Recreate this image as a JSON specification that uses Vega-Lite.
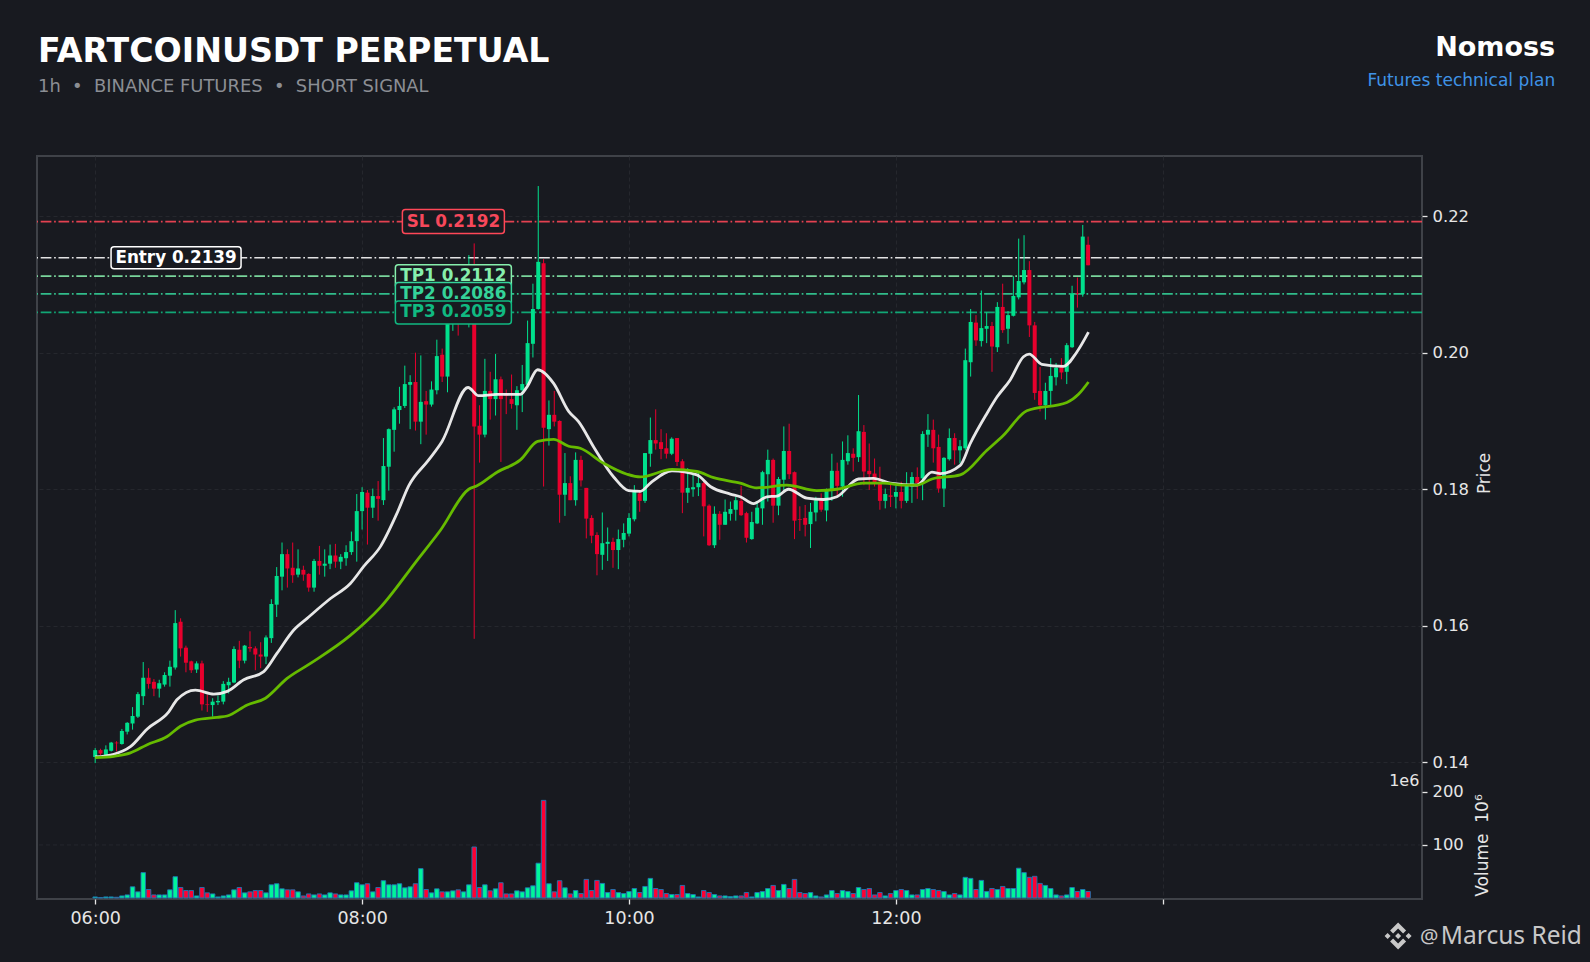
{
  "$schema": "https://vega.github.io/schema/vega-lite/v6.json",
  "width": 1385,
  "height": 743,
  "autosize": {"type": "none"},
  "padding": {"left": 37, "top": 156, "right": 168, "bottom": 63},
  "background": "#181a20",
  "view": {"stroke": "#3f4248", "strokeWidth": 2, "fill": "#181a20"},
  "title": {
    "text": "FARTCOINUSDT PERPETUAL",
    "subtitle": "1h\u00a0\u00a0•\u00a0\u00a0BINANCE FUTURES\u00a0\u00a0•\u00a0\u00a0SHORT SIGNAL",
    "anchor": "start",
    "frame": "group",
    "dx": 1,
    "offset": -63,
    "font": "DejaVu Sans",
    "fontSize": 33.2,
    "fontWeight": "bold",
    "color": "#ffffff",
    "subtitleFont": "DejaVu Sans",
    "subtitleFontSize": 17.9,
    "subtitleColor": "#8b8e94",
    "subtitlePadding": 9
  },
  "config": {"font": "DejaVu Sans"},
  "datasets": {
    "candles": [
{"t":6.00,"o":0.1408,"h":0.1421,"l":0.1399,"c":0.1418,"v":1.9},
{"t":6.04,"o":0.1418,"h":0.1420,"l":0.1411,"c":0.1413,"v":0.6},
{"t":6.08,"o":0.1411,"h":0.1425,"l":0.1410,"c":0.1419,"v":1.9},
{"t":6.12,"o":0.1417,"h":0.1430,"l":0.1416,"c":0.1429,"v":1.9},
{"t":6.16,"o":0.1429,"h":0.1431,"l":0.1416,"c":0.1428,"v":1.3},
{"t":6.20,"o":0.1427,"h":0.1449,"l":0.1426,"c":0.1446,"v":3.8},
{"t":6.24,"o":0.1445,"h":0.1459,"l":0.1441,"c":0.1458,"v":5.7},
{"t":6.28,"o":0.1457,"h":0.1481,"l":0.1448,"c":0.1468,"v":21},
{"t":6.32,"o":0.1467,"h":0.1503,"l":0.1465,"c":0.1500,"v":11.5},
{"t":6.36,"o":0.1497,"h":0.1547,"l":0.1484,"c":0.1524,"v":47.8},
{"t":6.40,"o":0.1524,"h":0.1538,"l":0.1508,"c":0.1515,"v":15.9},
{"t":6.44,"o":0.1518,"h":0.1522,"l":0.1497,"c":0.1508,"v":5.7},
{"t":6.48,"o":0.1508,"h":0.1521,"l":0.1495,"c":0.1516,"v":5.7},
{"t":6.52,"o":0.1514,"h":0.1532,"l":0.1511,"c":0.1528,"v":5.7},
{"t":6.56,"o":0.1527,"h":0.1549,"l":0.1511,"c":0.1540,"v":15.3},
{"t":6.60,"o":0.1539,"h":0.1623,"l":0.1536,"c":0.1604,"v":40.1},
{"t":6.64,"o":0.1606,"h":0.1611,"l":0.1555,"c":0.1567,"v":19.7},
{"t":6.68,"o":0.1568,"h":0.1571,"l":0.1532,"c":0.1546,"v":14},
{"t":6.72,"o":0.1548,"h":0.1549,"l":0.1531,"c":0.1535,"v":14},
{"t":6.76,"o":0.1536,"h":0.1548,"l":0.1531,"c":0.1545,"v":3.8},
{"t":6.80,"o":0.1545,"h":0.1549,"l":0.1476,"c":0.1485,"v":19.7},
{"t":6.84,"o":0.1485,"h":0.1499,"l":0.1474,"c":0.1484,"v":9.6},
{"t":6.88,"o":0.1484,"h":0.1494,"l":0.1467,"c":0.1489,"v":7.6},
{"t":6.92,"o":0.1488,"h":0.1498,"l":0.1484,"c":0.1490,"v":1.9},
{"t":6.96,"o":0.1489,"h":0.1519,"l":0.1485,"c":0.1515,"v":3.8},
{"t":7.00,"o":0.1513,"h":0.1524,"l":0.1501,"c":0.1518,"v":5.7},
{"t":7.04,"o":0.1517,"h":0.1570,"l":0.1516,"c":0.1566,"v":15.3},
{"t":7.08,"o":0.1565,"h":0.1578,"l":0.1538,"c":0.1549,"v":19.7},
{"t":7.12,"o":0.1549,"h":0.1572,"l":0.1545,"c":0.1571,"v":9.6},
{"t":7.16,"o":0.1569,"h":0.1592,"l":0.1562,"c":0.1567,"v":11.5},
{"t":7.20,"o":0.1567,"h":0.1570,"l":0.1535,"c":0.1558,"v":14},
{"t":7.24,"o":0.1558,"h":0.1576,"l":0.1538,"c":0.1555,"v":14},
{"t":7.28,"o":0.1555,"h":0.1586,"l":0.1544,"c":0.1583,"v":9.6},
{"t":7.32,"o":0.1582,"h":0.1639,"l":0.1575,"c":0.1632,"v":24.8},
{"t":7.36,"o":0.1631,"h":0.1686,"l":0.1613,"c":0.1673,"v":26.8},
{"t":7.40,"o":0.1672,"h":0.1722,"l":0.1652,"c":0.1705,"v":17.2},
{"t":7.44,"o":0.1705,"h":0.1712,"l":0.1656,"c":0.1684,"v":15.3},
{"t":7.48,"o":0.1685,"h":0.1722,"l":0.1663,"c":0.1674,"v":15.3},
{"t":7.52,"o":0.1675,"h":0.1712,"l":0.1671,"c":0.1684,"v":11.5},
{"t":7.56,"o":0.1682,"h":0.1688,"l":0.1666,"c":0.1675,"v":3.8},
{"t":7.60,"o":0.1676,"h":0.1677,"l":0.1650,"c":0.1656,"v":7.6},
{"t":7.64,"o":0.1656,"h":0.1698,"l":0.1650,"c":0.1695,"v":5.7},
{"t":7.68,"o":0.1695,"h":0.1717,"l":0.1675,"c":0.1688,"v":7.6},
{"t":7.72,"o":0.1688,"h":0.1712,"l":0.1672,"c":0.1691,"v":5.7},
{"t":7.76,"o":0.1691,"h":0.1719,"l":0.1683,"c":0.1703,"v":9.6},
{"t":7.80,"o":0.1703,"h":0.1720,"l":0.1685,"c":0.1694,"v":7.6},
{"t":7.84,"o":0.1694,"h":0.1705,"l":0.1683,"c":0.1701,"v":5.7},
{"t":7.88,"o":0.1699,"h":0.1718,"l":0.1688,"c":0.1708,"v":5.7},
{"t":7.92,"o":0.1708,"h":0.1738,"l":0.1704,"c":0.1724,"v":13.4},
{"t":7.96,"o":0.1724,"h":0.1793,"l":0.1694,"c":0.1768,"v":28.7},
{"t":8.00,"o":0.1768,"h":0.1803,"l":0.1741,"c":0.1796,"v":24.8},
{"t":8.04,"o":0.1795,"h":0.1799,"l":0.1719,"c":0.1773,"v":26.8},
{"t":8.08,"o":0.1773,"h":0.1801,"l":0.1758,"c":0.1790,"v":11.5},
{"t":8.12,"o":0.1790,"h":0.1812,"l":0.1754,"c":0.1786,"v":19.7},
{"t":8.16,"o":0.1784,"h":0.1875,"l":0.1777,"c":0.1834,"v":32.5},
{"t":8.20,"o":0.1833,"h":0.1889,"l":0.1798,"c":0.1888,"v":24.8},
{"t":8.24,"o":0.1887,"h":0.1920,"l":0.1855,"c":0.1917,"v":24.8},
{"t":8.28,"o":0.1916,"h":0.1950,"l":0.1896,"c":0.1922,"v":26.8},
{"t":8.32,"o":0.1922,"h":0.1981,"l":0.1919,"c":0.1954,"v":19.1},
{"t":8.36,"o":0.1953,"h":0.1967,"l":0.1888,"c":0.1957,"v":21},
{"t":8.40,"o":0.1957,"h":0.2000,"l":0.1886,"c":0.1899,"v":26.8},
{"t":8.44,"o":0.1899,"h":0.1996,"l":0.1866,"c":0.1928,"v":55.4},
{"t":8.48,"o":0.1929,"h":0.1944,"l":0.1880,"c":0.1924,"v":15.9},
{"t":8.52,"o":0.1924,"h":0.1958,"l":0.1921,"c":0.1946,"v":9.6},
{"t":8.56,"o":0.1945,"h":0.2019,"l":0.1939,"c":0.1995,"v":17.2},
{"t":8.60,"o":0.1997,"h":0.2006,"l":0.1957,"c":0.1965,"v":11.5},
{"t":8.64,"o":0.1965,"h":0.2051,"l":0.1942,"c":0.2045,"v":11.5},
{"t":8.68,"o":0.2044,"h":0.2075,"l":0.2032,"c":0.2065,"v":13.4},
{"t":8.72,"o":0.2065,"h":0.2080,"l":0.2025,"c":0.2055,"v":15.3},
{"t":8.76,"o":0.2055,"h":0.2090,"l":0.2045,"c":0.2080,"v":11.5},
{"t":8.80,"o":0.2080,"h":0.2143,"l":0.2037,"c":0.2105,"v":24.8},
{"t":8.84,"o":0.2105,"h":0.2160,"l":0.1581,"c":0.1892,"v":96.2},
{"t":8.88,"o":0.1893,"h":0.1923,"l":0.1839,"c":0.1880,"v":19.7},
{"t":8.92,"o":0.1880,"h":0.1991,"l":0.1876,"c":0.1944,"v":24.8},
{"t":8.96,"o":0.1944,"h":0.1972,"l":0.1902,"c":0.1932,"v":13.4},
{"t":9.00,"o":0.1932,"h":0.1998,"l":0.1908,"c":0.1961,"v":17.2},
{"t":9.04,"o":0.1961,"h":0.1965,"l":0.1840,"c":0.1932,"v":28.7},
{"t":9.08,"o":0.1940,"h":0.1946,"l":0.1910,"c":0.1937,"v":7.6},
{"t":9.12,"o":0.1932,"h":0.1968,"l":0.1918,"c":0.1925,"v":7.6},
{"t":9.16,"o":0.1923,"h":0.1951,"l":0.1887,"c":0.1945,"v":13.4},
{"t":9.20,"o":0.1945,"h":0.1982,"l":0.1913,"c":0.1954,"v":11.5},
{"t":9.24,"o":0.1953,"h":0.2047,"l":0.1953,"c":0.2014,"v":19.1},
{"t":9.28,"o":0.2013,"h":0.2101,"l":0.1993,"c":0.2064,"v":22.9},
{"t":9.32,"o":0.2064,"h":0.2244,"l":0.2063,"c":0.2133,"v":65.6},
{"t":9.36,"o":0.2131,"h":0.2137,"l":0.1804,"c":0.1890,"v":184.1},
{"t":9.40,"o":0.1888,"h":0.1930,"l":0.1864,"c":0.1909,"v":26.8},
{"t":9.44,"o":0.1909,"h":0.1944,"l":0.1892,"c":0.1899,"v":11.5},
{"t":9.48,"o":0.1900,"h":0.1901,"l":0.1751,"c":0.1792,"v":32.5},
{"t":9.52,"o":0.1792,"h":0.1853,"l":0.1761,"c":0.1809,"v":19.1},
{"t":9.56,"o":0.1809,"h":0.1819,"l":0.1784,"c":0.1784,"v":7.6},
{"t":9.60,"o":0.1784,"h":0.1854,"l":0.1776,"c":0.1843,"v":14},
{"t":9.64,"o":0.1843,"h":0.1849,"l":0.1804,"c":0.1813,"v":8.3},
{"t":9.68,"o":0.1802,"h":0.1802,"l":0.1728,"c":0.1757,"v":35},
{"t":9.72,"o":0.1758,"h":0.1762,"l":0.1721,"c":0.1732,"v":14},
{"t":9.76,"o":0.1733,"h":0.1737,"l":0.1674,"c":0.1705,"v":33.1},
{"t":9.80,"o":0.1704,"h":0.1766,"l":0.1682,"c":0.1721,"v":27.4},
{"t":9.84,"o":0.1720,"h":0.1744,"l":0.1695,"c":0.1723,"v":10.2},
{"t":9.88,"o":0.1723,"h":0.1729,"l":0.1685,"c":0.1711,"v":15.9},
{"t":9.92,"o":0.1711,"h":0.1741,"l":0.1683,"c":0.1727,"v":10.2},
{"t":9.96,"o":0.1726,"h":0.1750,"l":0.1715,"c":0.1736,"v":8.3},
{"t":10.00,"o":0.1735,"h":0.1765,"l":0.1731,"c":0.1758,"v":12.1},
{"t":10.04,"o":0.1756,"h":0.1806,"l":0.1753,"c":0.1798,"v":17.8},
{"t":10.08,"o":0.1794,"h":0.1799,"l":0.1767,"c":0.1783,"v":10.2},
{"t":10.12,"o":0.1783,"h":0.1853,"l":0.1780,"c":0.1853,"v":21.7},
{"t":10.16,"o":0.1852,"h":0.1905,"l":0.1833,"c":0.1872,"v":36.9},
{"t":10.20,"o":0.1872,"h":0.1917,"l":0.1858,"c":0.1867,"v":17.8},
{"t":10.24,"o":0.1869,"h":0.1888,"l":0.1844,"c":0.1859,"v":15.9},
{"t":10.28,"o":0.1860,"h":0.1882,"l":0.1845,"c":0.1852,"v":8.3},
{"t":10.32,"o":0.1852,"h":0.1876,"l":0.1850,"c":0.1874,"v":6.4},
{"t":10.36,"o":0.1875,"h":0.1875,"l":0.1834,"c":0.1840,"v":6.4},
{"t":10.40,"o":0.1841,"h":0.1844,"l":0.1765,"c":0.1795,"v":23.6},
{"t":10.44,"o":0.1795,"h":0.1831,"l":0.1780,"c":0.1802,"v":8.3},
{"t":10.48,"o":0.1800,"h":0.1821,"l":0.1789,"c":0.1803,"v":6.4},
{"t":10.52,"o":0.1803,"h":0.1826,"l":0.1790,"c":0.1809,"v":1.9},
{"t":10.56,"o":0.1809,"h":0.1811,"l":0.1731,"c":0.1775,"v":14},
{"t":10.60,"o":0.1776,"h":0.1778,"l":0.1717,"c":0.1718,"v":10.2},
{"t":10.64,"o":0.1718,"h":0.1775,"l":0.1714,"c":0.1764,"v":6.4},
{"t":10.68,"o":0.1764,"h":0.1768,"l":0.1726,"c":0.1748,"v":3.8},
{"t":10.72,"o":0.1748,"h":0.1785,"l":0.1748,"c":0.1767,"v":3.8},
{"t":10.76,"o":0.1764,"h":0.1782,"l":0.1754,"c":0.1771,"v":2.5},
{"t":10.80,"o":0.1770,"h":0.1789,"l":0.1754,"c":0.1784,"v":3.8},
{"t":10.84,"o":0.1783,"h":0.1805,"l":0.1761,"c":0.1762,"v":3.8},
{"t":10.88,"o":0.1765,"h":0.1767,"l":0.1722,"c":0.1729,"v":10.2},
{"t":10.92,"o":0.1727,"h":0.1767,"l":0.1726,"c":0.1752,"v":1.9},
{"t":10.96,"o":0.1750,"h":0.1783,"l":0.1749,"c":0.1773,"v":10.2},
{"t":11.00,"o":0.1772,"h":0.1827,"l":0.1748,"c":0.1825,"v":12.1},
{"t":11.04,"o":0.1822,"h":0.1858,"l":0.1782,"c":0.1843,"v":17.8},
{"t":11.08,"o":0.1843,"h":0.1845,"l":0.1751,"c":0.1776,"v":23.6},
{"t":11.12,"o":0.1776,"h":0.1818,"l":0.1762,"c":0.1815,"v":14},
{"t":11.16,"o":0.1814,"h":0.1892,"l":0.1799,"c":0.1856,"v":25.5},
{"t":11.20,"o":0.1856,"h":0.1896,"l":0.1815,"c":0.1822,"v":17.8},
{"t":11.24,"o":0.1825,"h":0.1826,"l":0.1727,"c":0.1754,"v":35},
{"t":11.28,"o":0.1756,"h":0.1775,"l":0.1739,"c":0.1755,"v":10.2},
{"t":11.32,"o":0.1758,"h":0.1777,"l":0.1731,"c":0.1748,"v":8.3},
{"t":11.36,"o":0.1749,"h":0.1780,"l":0.1714,"c":0.1767,"v":10.2},
{"t":11.40,"o":0.1766,"h":0.1789,"l":0.1753,"c":0.1784,"v":3.8},
{"t":11.44,"o":0.1784,"h":0.1794,"l":0.1767,"c":0.1770,"v":1.9},
{"t":11.48,"o":0.1769,"h":0.1801,"l":0.1753,"c":0.1800,"v":5.7},
{"t":11.52,"o":0.1799,"h":0.1852,"l":0.1783,"c":0.1827,"v":14},
{"t":11.56,"o":0.1827,"h":0.1839,"l":0.1790,"c":0.1805,"v":8.3},
{"t":11.60,"o":0.1804,"h":0.1870,"l":0.1789,"c":0.1843,"v":14},
{"t":11.64,"o":0.1841,"h":0.1879,"l":0.1836,"c":0.1853,"v":12.1},
{"t":11.68,"o":0.1852,"h":0.1860,"l":0.1826,"c":0.1846,"v":8.3},
{"t":11.72,"o":0.1847,"h":0.1938,"l":0.1840,"c":0.1885,"v":19.7},
{"t":11.76,"o":0.1884,"h":0.1894,"l":0.1806,"c":0.1826,"v":15.9},
{"t":11.80,"o":0.1827,"h":0.1867,"l":0.1799,"c":0.1822,"v":17.8},
{"t":11.84,"o":0.1823,"h":0.1845,"l":0.1804,"c":0.1809,"v":5.7},
{"t":11.88,"o":0.1811,"h":0.1833,"l":0.1770,"c":0.1783,"v":10.2},
{"t":11.92,"o":0.1783,"h":0.1801,"l":0.1772,"c":0.1793,"v":3.8},
{"t":11.96,"o":0.1791,"h":0.1809,"l":0.1774,"c":0.1789,"v":8.3},
{"t":12.00,"o":0.1789,"h":0.1805,"l":0.1772,"c":0.1796,"v":14},
{"t":12.04,"o":0.1796,"h":0.1811,"l":0.1772,"c":0.1783,"v":15.9},
{"t":12.08,"o":0.1783,"h":0.1825,"l":0.1780,"c":0.1805,"v":14},
{"t":12.12,"o":0.1804,"h":0.1825,"l":0.1780,"c":0.1818,"v":5.7},
{"t":12.16,"o":0.1818,"h":0.1832,"l":0.1786,"c":0.1809,"v":5.7},
{"t":12.20,"o":0.1816,"h":0.1885,"l":0.1784,"c":0.1881,"v":15.9},
{"t":12.24,"o":0.1880,"h":0.1910,"l":0.1862,"c":0.1887,"v":17.8},
{"t":12.28,"o":0.1887,"h":0.1902,"l":0.1839,"c":0.1860,"v":15.9},
{"t":12.32,"o":0.1862,"h":0.1880,"l":0.1795,"c":0.1801,"v":14},
{"t":12.36,"o":0.1801,"h":0.1847,"l":0.1774,"c":0.1846,"v":12.1},
{"t":12.40,"o":0.1844,"h":0.1889,"l":0.1842,"c":0.1875,"v":5.7},
{"t":12.44,"o":0.1875,"h":0.1882,"l":0.1836,"c":0.1857,"v":8.3},
{"t":12.48,"o":0.1857,"h":0.1872,"l":0.1838,"c":0.1863,"v":5.7},
{"t":12.52,"o":0.1860,"h":0.2006,"l":0.1857,"c":0.1989,"v":38.9},
{"t":12.56,"o":0.1986,"h":0.2064,"l":0.1965,"c":0.2045,"v":36.9},
{"t":12.60,"o":0.2044,"h":0.2055,"l":0.2010,"c":0.2018,"v":15.9},
{"t":12.64,"o":0.2017,"h":0.2091,"l":0.2009,"c":0.2036,"v":33.1},
{"t":12.68,"o":0.2035,"h":0.2059,"l":0.2014,"c":0.2039,"v":12.1},
{"t":12.72,"o":0.2039,"h":0.2045,"l":0.1972,"c":0.2009,"v":17.8},
{"t":12.76,"o":0.2008,"h":0.2074,"l":0.2001,"c":0.2067,"v":15.9},
{"t":12.80,"o":0.2067,"h":0.2101,"l":0.2029,"c":0.2033,"v":21.7},
{"t":12.84,"o":0.2035,"h":0.2061,"l":0.2013,"c":0.2055,"v":17.8},
{"t":12.88,"o":0.2054,"h":0.2112,"l":0.2053,"c":0.2083,"v":17.8},
{"t":12.92,"o":0.2081,"h":0.2167,"l":0.2078,"c":0.2105,"v":56.1},
{"t":12.96,"o":0.2103,"h":0.2172,"l":0.2100,"c":0.2121,"v":47.8},
{"t":13.00,"o":0.2121,"h":0.2134,"l":0.2023,"c":0.2040,"v":38.9},
{"t":13.04,"o":0.2040,"h":0.2045,"l":0.1931,"c":0.1941,"v":40.8},
{"t":13.08,"o":0.1944,"h":0.1979,"l":0.1914,"c":0.1923,"v":27.4},
{"t":13.12,"o":0.1923,"h":0.1956,"l":0.1902,"c":0.1944,"v":23.6},
{"t":13.16,"o":0.1944,"h":0.1992,"l":0.1921,"c":0.1966,"v":17.8},
{"t":13.20,"o":0.1964,"h":0.1985,"l":0.1952,"c":0.1978,"v":5.7},
{"t":13.24,"o":0.1979,"h":0.1992,"l":0.1961,"c":0.1971,"v":3.8},
{"t":13.28,"o":0.1972,"h":0.2014,"l":0.1954,"c":0.2011,"v":5.7},
{"t":13.32,"o":0.2008,"h":0.2098,"l":0.2007,"c":0.2087,"v":19.7},
{"t":13.36,"o":0.2087,"h":0.2110,"l":0.2066,"c":0.2086,"v":12.1},
{"t":13.40,"o":0.2086,"h":0.2187,"l":0.2082,"c":0.2170,"v":15.9},
{"t":13.44,"o":0.2158,"h":0.2170,"l":0.2128,"c":0.2128,"v":12.1}
    ],
    "fast": [
{"t":6.0,"p":0.1408},{"t":6.14,"p":0.1412},{"t":6.264,"p":0.1423},{"t":6.39,"p":0.1449},{"t":6.551,"p":0.1474},{"t":6.614,"p":0.1492},{"t":6.751,"p":0.1506},{"t":6.889,"p":0.15},{"t":6.989,"p":0.1504},{"t":7.113,"p":0.1521},{"t":7.263,"p":0.1533},{"t":7.363,"p":0.156},{"t":7.488,"p":0.1594},{"t":7.588,"p":0.1611},{"t":7.763,"p":0.164},{"t":7.912,"p":0.1662},{"t":8.012,"p":0.1687},{"t":8.137,"p":0.1716},{"t":8.262,"p":0.1765},{"t":8.349,"p":0.1805},{"t":8.499,"p":0.1843},{"t":8.599,"p":0.187},{"t":8.794,"p":0.1949},{"t":8.873,"p":0.1937},{"t":9.011,"p":0.1939},{"t":9.186,"p":0.1939},{"t":9.236,"p":0.195},{"t":9.315,"p":0.1975},{"t":9.435,"p":0.1955},{"t":9.548,"p":0.1914},{"t":9.622,"p":0.1899},{"t":9.735,"p":0.1862},{"t":9.885,"p":0.1818},{"t":9.997,"p":0.1798},{"t":10.085,"p":0.1797},{"t":10.16,"p":0.1809},{"t":10.322,"p":0.1827},{"t":10.509,"p":0.1821},{"t":10.609,"p":0.1804},{"t":10.759,"p":0.1793},{"t":10.834,"p":0.1789},{"t":10.933,"p":0.1779},{"t":11.033,"p":0.1789},{"t":11.109,"p":0.179},{"t":11.195,"p":0.18},{"t":11.333,"p":0.1787},{"t":11.458,"p":0.1785},{"t":11.558,"p":0.1789},{"t":11.72,"p":0.1815},{"t":11.832,"p":0.1816},{"t":11.957,"p":0.1809},{"t":12.157,"p":0.1806},{"t":12.27,"p":0.1825},{"t":12.332,"p":0.1823},{"t":12.482,"p":0.1835},{"t":12.557,"p":0.1867},{"t":12.682,"p":0.1911},{"t":12.757,"p":0.1935},{"t":12.856,"p":0.196},{"t":12.956,"p":0.1994},{"t":12.999,"p":0.1998},{"t":13.093,"p":0.1983},{"t":13.255,"p":0.198},{"t":13.356,"p":0.2001},{"t":13.443,"p":0.203}
    ],
    "slow": [
{"t":6.0,"p":0.1407},{"t":6.14,"p":0.1409},{"t":6.264,"p":0.1414},{"t":6.39,"p":0.1426},{"t":6.539,"p":0.1438},{"t":6.639,"p":0.1453},{"t":6.751,"p":0.1462},{"t":6.914,"p":0.1466},{"t":6.989,"p":0.1468},{"t":7.139,"p":0.1484},{"t":7.276,"p":0.1494},{"t":7.438,"p":0.1523},{"t":7.613,"p":0.1545},{"t":7.912,"p":0.1586},{"t":8.137,"p":0.1627},{"t":8.412,"p":0.1696},{"t":8.587,"p":0.174},{"t":8.799,"p":0.18},{"t":8.861,"p":0.1805},{"t":9.011,"p":0.1825},{"t":9.186,"p":0.1843},{"t":9.315,"p":0.187},{"t":9.435,"p":0.1873},{"t":9.548,"p":0.1863},{"t":9.635,"p":0.186},{"t":9.81,"p":0.1838},{"t":9.985,"p":0.1822},{"t":10.085,"p":0.1818},{"t":10.322,"p":0.1829},{"t":10.509,"p":0.1826},{"t":10.634,"p":0.1817},{"t":10.834,"p":0.1809},{"t":10.958,"p":0.1802},{"t":11.183,"p":0.1806},{"t":11.408,"p":0.1798},{"t":11.558,"p":0.18},{"t":11.757,"p":0.1809},{"t":11.907,"p":0.1809},{"t":12.057,"p":0.1806},{"t":12.157,"p":0.1806},{"t":12.27,"p":0.1815},{"t":12.482,"p":0.1821},{"t":12.682,"p":0.1857},{"t":12.806,"p":0.1879},{"t":12.981,"p":0.1915},{"t":13.281,"p":0.1927},{"t":13.368,"p":0.1939},{"t":13.443,"p":0.1957}
    ],
    "levels": [
{"name":"SL","label":"SL 0.2192","price":0.2192,"t":8.684},
{"name":"Entry","label":"Entry 0.2139","price":0.2139,"t":6.606},
{"name":"TP1","label":"TP1 0.2112","price":0.2112,"t":8.684},
{"name":"TP2","label":"TP2 0.2086","price":0.2086,"t":8.684},
{"name":"TP3","label":"TP3 0.2059","price":0.2059,"t":8.684}
    ]
  },
  "layer": [
    {
      "layer": [
        {
          "data": {"name": "levels"},
          "mark": {"type": "rule", "strokeWidth": 1.7, "strokeDash": [10.7, 2.7, 1.7, 2.7], "opacity": 0.88},
          "encoding": {
            "y": {
              "field": "price",
              "type": "quantitative",
              "title": "Price",
              "scale": {"domain": [0.12, 0.2288], "nice": false, "zero": false},
              "axis": {
                "orient": "right",
                "values": [0.14, 0.16, 0.18, 0.2, 0.22],
                "format": ".2f",
                "domain": false,
                "tickColor": "#e6e6e6",
                "tickSize": 5,
                "tickWidth": 1.3,
                "labelColor": "#e6e6e6",
                "labelFontSize": 16.4,
                "labelPadding": 5,
                "gridColor": "#25272d",
                "gridDash": [4, 3],
                "gridWidth": 1,
                "titleColor": "#e6e6e6",
                "titleFontSize": 16.8,
                "titleFontWeight": "normal",
                "titleAngle": -90,
                "titleX": 62,
                "titleY": 317,
                "titleAlign": "center",
                "titleBaseline": "middle"
              }
            },
            "stroke": {
              "field": "name",
              "type": "nominal",
              "scale": {"domain": ["SL", "Entry", "TP1", "TP2", "TP3"], "range": ["#ff4757", "#ffffff", "#86efac", "#34d399", "#10b981"]},
              "legend": null
            }
          }
        },
        {
          "data": {"name": "candles"},
          "mark": {"type": "rule", "strokeWidth": 1},
          "encoding": {
            "x": {
              "field": "t",
              "type": "quantitative",
              "scale": {"domain": [5.564, 15.942], "nice": false, "zero": false, "padding": 0},
              "title": null,
              "axis": {
                "values": [6, 8, 10, 12, 14],
                "labelExpr": "datum.value < 14 ? format(datum.value, '02d') + ':00' : ''",
                "domain": false,
                "tickColor": "#e6e6e6",
                "tickSize": 5,
                "tickWidth": 1.3,
                "labelColor": "#e6e6e6",
                "labelFontSize": 17.5,
                "labelPadding": 5,
                "gridColor": "#25272d",
                "gridDash": [4, 3],
                "gridWidth": 1
              }
            },
            "y": {"field": "l", "type": "quantitative"},
            "y2": {"field": "h"},
            "color": {"condition": {"test": "datum.c >= datum.o", "value": "#00e08c"}, "value": "#e8002d"}
          }
        },
        {
          "data": {"name": "candles"},
          "mark": {"type": "bar", "size": 4},
          "encoding": {
            "x": {"field": "t", "type": "quantitative"},
            "y": {"field": "o", "type": "quantitative"},
            "y2": {"field": "c"},
            "color": {"condition": {"test": "datum.c >= datum.o", "value": "#00e08c"}, "value": "#e8002d"}
          }
        },
        {
          "data": {"name": "fast"},
          "mark": {"type": "line", "color": "#f2f2f2", "strokeWidth": 2.8, "interpolate": "monotone", "opacity": 0.95},
          "encoding": {
            "x": {"field": "t", "type": "quantitative"},
            "y": {"field": "p", "type": "quantitative"}
          }
        },
        {
          "data": {"name": "slow"},
          "mark": {"type": "line", "color": "#66bb00", "strokeWidth": 2.8, "interpolate": "monotone"},
          "encoding": {
            "x": {"field": "t", "type": "quantitative"},
            "y": {"field": "p", "type": "quantitative"}
          }
        },
        {
          "data": {"name": "levels"},
          "mark": {"type": "point", "filled": false, "size": 4, "fill": "#181a20", "fillOpacity": 1, "opacity": 1, "strokeWidth": 1.5},
          "encoding": {
            "x": {"field": "t", "type": "quantitative"},
            "y": {"field": "price", "type": "quantitative"},
            "stroke": {"field": "name", "type": "nominal", "legend": null},
            "shape": {
              "field": "name",
              "type": "nominal",
              "legend": null,
              "scale": {
                "domain": ["SL", "Entry", "TP1", "TP2", "TP3"],
                "range": [
                  "M-48,-12H48Q51,-12 51,-9V9Q51,12 48,12H-48Q-51,12 -51,9V-9Q-51,-12 -48,-12Z",
                  "M-62,-11H62Q65,-11 65,-8V8Q65,11 62,11H-62Q-65,11 -65,8V-8Q-65,-11 -62,-11Z",
                  "M-55,-11.5H55Q58,-11.5 58,-8.5V8.5Q58,11.5 55,11.5H-55Q-58,11.5 -58,8.5V-8.5Q-58,-11.5 -55,-11.5Z",
                  "M-55,-11.5H55Q58,-11.5 58,-8.5V8.5Q58,11.5 55,11.5H-55Q-58,11.5 -58,8.5V-8.5Q-58,-11.5 -55,-11.5Z",
                  "M-55,-11.5H55Q58,-11.5 58,-8.5V8.5Q58,11.5 55,11.5H-55Q-58,11.5 -58,8.5V-8.5Q-58,-11.5 -55,-11.5Z"
                ]
              }
            }
          }
        },
        {
          "data": {"name": "levels"},
          "mark": {"type": "text", "fontSize": 16.8, "fontWeight": "bold", "align": "center", "baseline": "middle"},
          "encoding": {
            "x": {"field": "t", "type": "quantitative"},
            "y": {"field": "price", "type": "quantitative"},
            "text": {"field": "label"},
            "color": {"field": "name", "type": "nominal", "legend": null, "scale": {"domain": ["SL", "Entry", "TP1", "TP2", "TP3"], "range": ["#f7485b", "#ffffff", "#86efac", "#34d399", "#10b981"]}}
          }
        },
        {
          "data": {"values": [{"text": "Nomoss"}]},
          "mark": {"type": "text", "fontSize": 27, "fontWeight": "bold", "align": "right", "baseline": "alphabetic", "color": "#ffffff"},
          "encoding": {
            "x": {"datum": 16.94, "type": "quantitative"},
            "y": {"datum": 0.2434, "type": "quantitative"},
            "text": {"field": "text"}
          }
        },
        {
          "data": {"values": [{"text": "Futures technical plan"}]},
          "mark": {"type": "text", "fontSize": 17, "align": "right", "baseline": "alphabetic", "color": "#3f93e6"},
          "encoding": {
            "x": {"datum": 16.94, "type": "quantitative"},
            "y": {"datum": 0.2391, "type": "quantitative"},
            "text": {"field": "text"}
          }
        },
        {
          "data": {"values": [{"text": "1e6"}]},
          "mark": {"type": "text", "fontSize": 16, "align": "right", "baseline": "alphabetic", "color": "#e6e6e6"},
          "encoding": {
            "x": {"datum": 15.922, "type": "quantitative"},
            "y": {"datum": 0.13655, "type": "quantitative"},
            "text": {"field": "text"}
          }
        },
        {
          "data": {"values": [{"text": "Marcus Reid"}]},
          "mark": {"type": "text", "font": "Noto Sans", "fontSize": 24.5, "align": "right", "baseline": "alphabetic", "color": "#c8c8c8"},
          "encoding": {
            "x": {"datum": 17.14, "type": "quantitative"},
            "y": {"datum": 0.1134, "type": "quantitative"},
            "text": {"field": "text"}
          }
        },
        {
          "data": {"values": [{"text": "@"}]},
          "mark": {"type": "text", "font": "Noto Sans", "fontSize": 20.5, "align": "right", "baseline": "alphabetic", "color": "#c8c8c8"},
          "encoding": {
            "x": {"datum": 16.065, "type": "quantitative"},
            "y": {"datum": 0.1136, "type": "quantitative"},
            "text": {"field": "text"}
          }
        },
        {
          "data": {"values": [{"text": "logo"}]},
          "mark": {
            "type": "point",
            "filled": true,
            "opacity": 1,
            "size": 4,
            "color": "#c8c8c8",
            "shape": "M0,-13.5L8,-5.5L5,-2.5L0,-7.5L-5,-2.5L-8,-5.5ZM0,13.5L8,5.5L5,2.5L0,7.5L-5,2.5L-8,5.5ZM-13.5,0L-10.5,-3L-7.5,0L-10.5,3ZM13.5,0L10.5,-3L7.5,0L10.5,3ZM0,-3L3,0L0,3L-3,0Z"
          },
          "encoding": {
            "x": {"datum": 15.763, "type": "quantitative"},
            "y": {"datum": 0.1146, "type": "quantitative"}
          }
        }
      ]
    },
    {
      "layer": [
        {
          "data": {"values": [{"level": 100}]},
          "mark": {"type": "rule", "stroke": "#25272d", "strokeWidth": 1, "strokeDash": [4, 3]},
          "encoding": {
            "y": {
              "field": "level",
              "type": "quantitative",
              "title": "Volume\u00a0\u00a010⁶",
              "scale": {"domain": [-2, 1400], "nice": false, "zero": false},
              "axis": {
                "orient": "right",
                "values": [100, 200],
                "domain": false,
                "grid": false,
                "tickColor": "#e6e6e6",
                "tickSize": 5,
                "tickWidth": 1.3,
                "labelColor": "#e6e6e6",
                "labelFontSize": 16.4,
                "labelPadding": 5,
                "titleColor": "#e6e6e6",
                "titleFontSize": 17,
                "titleFontWeight": "normal",
                "titleAngle": -90,
                "titleX": 60,
                "titleY": 689,
                "titleAlign": "center",
                "titleBaseline": "middle"
              }
            }
          }
        },
        {
          "data": {"name": "candles"},
          "mark": {"type": "bar", "size": 4.5, "stroke": "#1f77b4", "strokeWidth": 0.9},
          "encoding": {
            "x": {"field": "t", "type": "quantitative"},
            "y": {"field": "v", "type": "quantitative"},
            "color": {"condition": {"test": "datum.c >= datum.o", "value": "#00f59a"}, "value": "#ff0033"}
          }
        }
      ]
    }
  ],
  "resolve": {"scale": {"y": "independent"}, "axis": {"y": "independent"}}
}
